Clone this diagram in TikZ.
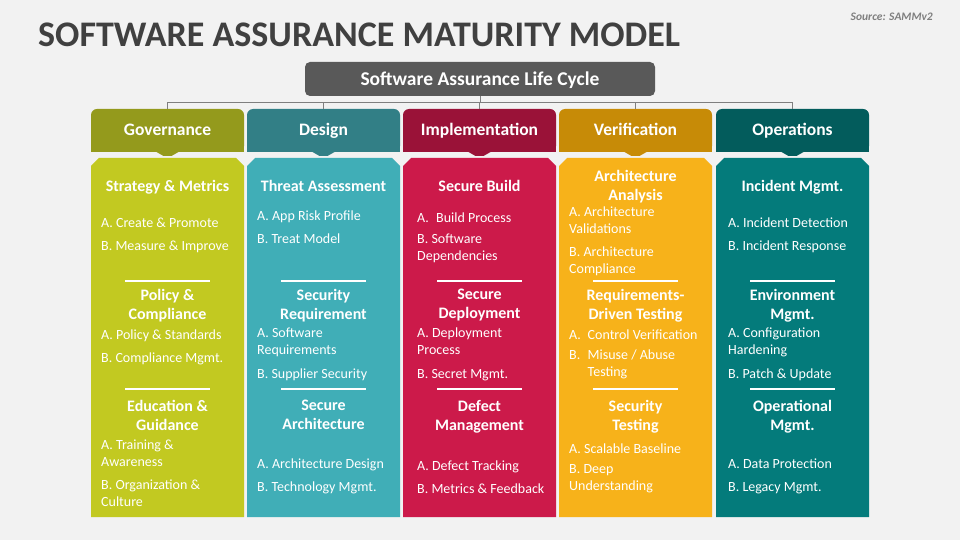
\documentclass[tikz,border=0pt]{standalone}
\usepackage{fontspec}
\setmainfont{Carlito}
\definecolor{bgc}{HTML}{F2F2F2}
\definecolor{titlec}{HTML}{404040}
\definecolor{srcc}{HTML}{7F7F7F}
\definecolor{topc}{HTML}{595959}
\definecolor{linec}{HTML}{7F7F7F}
\definecolor{govH}{HTML}{949A1C}
\definecolor{govB}{HTML}{C2C921}
\definecolor{desH}{HTML}{327F86}
\definecolor{desB}{HTML}{40AEB7}
\definecolor{impH}{HTML}{9A1238}
\definecolor{impB}{HTML}{CC1A4A}
\definecolor{verH}{HTML}{C78B07}
\definecolor{verB}{HTML}{F7B21A}
\definecolor{opsH}{HTML}{035C5C}
\definecolor{opsB}{HTML}{047B7B}
\tikzset{
  hdr/.style={minimum width=153bp, minimum height=43bp, inner sep=0pt, text=white,
    text height=12.5bp, text depth=2.5bp,
    font=\bfseries\fontsize{17.5bp}{20bp}\selectfont},
  topbox/.style={fill=topc, rounded corners=5bp, minimum width=350bp, minimum height=34bp,
    inner sep=0pt, text=white, text height=14bp, text depth=1.5bp,
    font=\bfseries\fontsize{19.5bp}{23bp}\selectfont},
  conn/.style={draw=linec, line width=1bp},
  hd/.style={font=\bfseries\fontsize{16bp}{19bp}\selectfont, text=white, align=center,
    anchor=north, inner sep=0pt, yshift=8.1bp, execute at begin node=\strut},
  it/.style={font=\fontsize{14bp}{17bp}\selectfont, text=white, align=left,
    anchor=north west, inner sep=0pt, yshift=7.5bp, execute at begin node=\strut},
  sepline/.style={draw=white, line width=2bp}
}
\begin{document}
\begin{tikzpicture}[x=1bp,y=-1bp]
\useasboundingbox (0,0) rectangle (960,540);
\fill[bgc] (0,0) rectangle (960,540);
% title
\node[anchor=base west, inner sep=0pt, text=titlec, font=\bfseries\fontsize{36bp}{40bp}\selectfont] (title) at (38,47) {SOFTWARE ASSURANCE MATURITY MODEL};
\node[anchor=base east, inner sep=0pt, text=srcc, font=\bfseries\itshape\fontsize{11.5bp}{13bp}\selectfont] (src) at (933,21) {Source: SAMMv2};
% columns
\foreach \x/\h/\b/\n/\t in {91/govH/govB/gov/Governance, 247/desH/desB/des/Design, 403/impH/impB/imp/Implementation, 559/verH/verB/ver/Verification, 716/opsH/opsB/ops/Operations}{
  \fill[\h, rounded corners=6bp] (\x,109) rectangle ++(153,43);
  \fill[\h] (\x,140) rectangle ++(153,12);
  \fill[\h] (\x+65.5,152) -- (\x+87.5,152) -- (\x+80.5,156) -- (\x+72.5,156) -- cycle;
  \fill[\b] (\x,517) -- (\x,166) -- (\x+8,158) -- (\x+145,158) -- (\x+153,166) -- (\x+153,517) -- cycle;
  \node[hdr] (\n) at (\x+76.5,130.5) {\t};
  \draw[sepline] (\x+34,281.5) -- (\x+119,281.5);
  \draw[sepline] (\x+34,389) -- (\x+119,389);
}
% top box and connectors
\node[topbox] (top) at (480,79) {Software Assurance Life Cycle};
\foreach \n in {gov,des,imp,ver,ops}{
  \draw[conn] (top.south) -- ++(0,6.5) -| (\n.north);
}
% Governance
\node[hd] (g1) at (167.5,186) {Strategy \& Metrics};
\node[it] (g1a) at (101,223) {A. Create \& Promote};
\node[it] (g1b) at (101,246) {B. Measure \& Improve};
\node[hd] (g2) at (167.5,297) {Policy \&\\Compliance};
\node[it] (g2a) at (101,335) {A. Policy \& Standards};
\node[it] (g2b) at (101,358) {B. Compliance Mgmt.};
\node[hd] (g3) at (167.5,408) {Education \&\\Guidance};
\node[it] (g3a) at (101,447) {A. Training \&\\Awareness};
\node[it] (g3b) at (101,487) {B. Organization \&\\Culture};
% Design
\node[hd] (d1) at (323.5,186) {Threat Assessment};
\node[it] (d1a) at (257,216) {A. App Risk Profile};
\node[it] (d1b) at (257,239) {B. Treat Model};
\node[hd] (d2) at (323.5,297) {Security\\Requirement};
\node[it] (d2a) at (257,335) {A. Software\\Requirements};
\node[it] (d2b) at (257,374) {B. Supplier Security};
\node[hd] (d3) at (323.5,408) {Secure\\Architecture};
\node[it] (d3a) at (257,464) {A. Architecture Design};
\node[it] (d3b) at (257,487) {B. Technology Mgmt.};
% Implementation
\node[hd] (i1) at (479.5,186) {Secure Build};
\node[it] (i1a) at (417,218) {\makebox[19bp][l]{A.}Build Process};
\node[it] (i1b) at (417,241) {B. Software\\Dependencies};
\node[hd] (i2) at (479.5,297) {Secure\\Deployment};
\node[it] (i2a) at (417,335) {A. Deployment\\Process};
\node[it] (i2b) at (417,374) {B. Secret Mgmt.};
\node[hd] (i3) at (479.5,408) {Defect\\Management};
\node[it] (i3a) at (417,466) {A. Defect Tracking};
\node[it] (i3b) at (417,489) {B. Metrics \& Feedback};
% Verification
\node[hd] (v1) at (635.5,178) {Architecture\\Analysis};
\node[it] (v1a) at (569,214) {A. Architecture\\Validations};
\node[it] (v1b) at (569,254) {B. Architecture\\Compliance};
\node[hd] (v2) at (635.5,297) {Requirements-\\Driven Testing};
\node[it] (v2a) at (569,335) {\makebox[18.5bp][l]{A.}Control Verification};
\node[it] (v2b) at (569,357) {\makebox[18.5bp][l]{B.}Misuse / Abuse\\\hspace*{18.5bp}Testing};
\node[hd] (v3) at (635.5,408) {Security\\Testing};
\node[it] (v3a) at (569,449) {A. Scalable Baseline};
\node[it] (v3b) at (569,472) {B. Deep\\Understanding};
% Operations
\node[hd] (o1) at (792.5,186) {Incident Mgmt.};
\node[it] (o1a) at (728,223) {A. Incident Detection};
\node[it] (o1b) at (728,246) {B. Incident Response};
\node[hd] (o2) at (792.5,297) {Environment\\Mgmt.};
\node[it] (o2a) at (728,335) {A. Configuration\\Hardening};
\node[it] (o2b) at (728,374) {B. Patch \& Update};
\node[hd] (o3) at (792.5,408) {Operational\\Mgmt.};
\node[it] (o3a) at (728,464) {A. Data Protection};
\node[it] (o3b) at (728,487) {B. Legacy Mgmt.};
\end{tikzpicture}
\end{document}
